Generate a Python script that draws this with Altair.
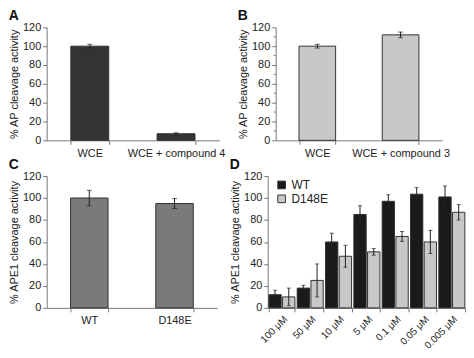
import altair as alt
import pandas as pd

# ---- data ----
a_cats = ["WCE", "WCE + compound 4"]
a_vals = [100, 7]
a_errs = [2, 1]

b_cats = ["WCE", "WCE + compound 3"]
b_vals = [100, 112]
b_errs = [2, 3]

c_cats = ["WT", "D148E"]
c_vals = [100, 95]
c_errs = [7, 4.5]

d_conc = ["100 μM", "50 μM", "10 μM", "5 μM", "0.1 μM", "0.05 μM", "0.005 μM"]
d_series = ["WT", "D148E"]
d_wt = [12, 18, 60, 85, 97, 103.5, 101]
d_wt_err = [4, 2.5, 8, 8, 6, 6, 10]
d_mut = [10, 25, 47, 51, 65, 60, 87]
d_mut_err = [8, 15, 10, 3, 4.5, 10.5, 7]

y_ticks = [0, 20, 40, 60, 80, 100, 120]
b_minor = [10, 30, 50, 70, 90, 110]

FONT = "Liberation Sans"
TXT = "#222222"
AX = "#777777"


def letter_title(letter):
    return alt.TitleParams(letter, anchor="start", fontSize=14,
                           fontWeight="bold", font=FONT, color="#111111",
                           offset=-2)


def y_axis(title):
    return alt.Axis(values=y_ticks, title=title, grid=False, tickSize=4,
                    titlePadding=3, labelPadding=2, domainColor=AX,
                    tickColor=AX, labelOverlap=False)


def simple_panel(cats, vals, errs, color, letter, ytitle, w, h, minor=None):
    df = pd.DataFrame({
        "cat": cats,
        "val": vals,
        "lo": [v - e for v, e in zip(vals, errs)],
        "hi": [v + e for v, e in zip(vals, errs)],
    })
    xenc = alt.X("cat:N", sort=cats, title=None,
                 scale=alt.Scale(paddingInner=0.56, paddingOuter=0.28),
                 axis=alt.Axis(labelAngle=0, tickBand="extent", tickSize=4,
                               labelPadding=3, domainColor=AX, tickColor=AX))
    yscale = alt.Scale(domain=[0, 120])
    base = alt.Chart(df)
    bars = base.mark_bar(color=color, stroke="#333333", strokeWidth=1).encode(
        x=xenc, y=alt.Y("val:Q", scale=yscale, axis=y_axis(ytitle)))
    rule = base.mark_rule(color="#222222", strokeWidth=1).encode(
        x=xenc, y=alt.Y("lo:Q", scale=yscale, axis=y_axis(ytitle)), y2="hi:Q")
    cap_hi = base.mark_tick(color="#222222", size=5, thickness=1).encode(
        x=xenc, y=alt.Y("hi:Q", scale=yscale, axis=y_axis(ytitle)))
    cap_lo = base.mark_tick(color="#222222", size=5, thickness=1).encode(
        x=xenc, y=alt.Y("lo:Q", scale=yscale, axis=y_axis(ytitle)))
    layers = [bars, rule, cap_hi, cap_lo]
    if minor:
        mdf = pd.DataFrame({"m": minor})
        mt = alt.Chart(mdf).mark_rule(color=AX).encode(
            x=alt.value(-2), x2=alt.value(0),
            y=alt.Y("m:Q", scale=yscale, axis=y_axis(ytitle)))
        layers.append(mt)
    return alt.layer(*layers).properties(width=w, height=h, title=letter_title(letter))


pa = simple_panel(a_cats, a_vals, a_errs, "#333333", "A", "% AP cleavage activity", 174, 114)
pb = simple_panel(b_cats, b_vals, b_errs, "#c8c8c8", "B", "% AP cleavage activity", 168, 114, minor=b_minor)
pc = simple_panel(c_cats, c_vals, c_errs, "#7a7a7a", "C", "% APE1 cleavage activity", 172, 133)

# panel D
rows = []
for i, conc in enumerate(d_conc):
    rows.append({"conc": conc, "series": "WT", "val": d_wt[i],
                 "lo": d_wt[i] - d_wt_err[i], "hi": d_wt[i] + d_wt_err[i]})
    rows.append({"conc": conc, "series": "D148E", "val": d_mut[i],
                 "lo": d_mut[i] - d_mut_err[i], "hi": d_mut[i] + d_mut_err[i]})
ddf = pd.DataFrame(rows)

dx = alt.X("conc:N", sort=d_conc, title=None,
           scale=alt.Scale(paddingInner=0.08, paddingOuter=0.04),
           axis=alt.Axis(labelAngle=-45, tickBand="extent", tickSize=4,
                         labelPadding=2, labelFontSize=10,
                         domainColor=AX, tickColor=AX))
dxo = alt.XOffset("series:N", sort=d_series, scale=alt.Scale(paddingInner=0.1))
dys = alt.Scale(domain=[0, 120])
dyt = "% APE1 cleavage activity"
dbase = alt.Chart(ddf)
dbars = dbase.mark_bar(stroke="#333333", strokeWidth=1).encode(
    x=dx, xOffset=dxo,
    y=alt.Y("val:Q", scale=dys, axis=y_axis(dyt)),
    color=alt.Color("series:N", sort=d_series,
                    scale=alt.Scale(domain=d_series, range=["#1a1a1a", "#c8c8c8"]),
                    legend=alt.Legend(title=None, orient="none", legendX=8, legendY=3,
                                      symbolType="square", symbolSize=60,
                                      symbolStrokeColor="#333333", symbolStrokeWidth=1,
                                      labelFontSize=12, rowPadding=2, labelColor=TXT,
                                      labelFont=FONT)))
drule = dbase.mark_rule(color="#222222").encode(
    x=dx, xOffset=dxo, y=alt.Y("lo:Q", scale=dys, axis=y_axis(dyt)), y2="hi:Q")
dcap_hi = dbase.mark_tick(color="#222222", size=4, thickness=1).encode(
    x=dx, xOffset=dxo, y=alt.Y("hi:Q", scale=dys, axis=y_axis(dyt)))
dcap_lo = dbase.mark_tick(color="#222222", size=4, thickness=1).encode(
    x=dx, xOffset=dxo, y=alt.Y("lo:Q", scale=dys, axis=y_axis(dyt)))
pd_ = alt.layer(dbars, drule, dcap_hi, dcap_lo).properties(
    width=200, height=133, title=letter_title("D"))

chart = alt.vconcat(
    alt.hconcat(pa, pb, spacing=12).resolve_scale(color="independent"),
    alt.hconcat(pc, pd_, spacing=12).resolve_scale(color="independent"),
    spacing=0,
).resolve_scale(color="independent").properties(padding=0).configure_view(stroke=None).configure_axis(
    labelFont=FONT, titleFont=FONT, labelFontSize=11, titleFontSize=11,
    labelColor=TXT, titleColor=TXT, titleFontWeight="normal"
).configure_axisY(labelOverlap=False).configure_legend(labelFont=FONT)

chart.save("out.html", embed_options={"renderer": "svg", "actions": False})
